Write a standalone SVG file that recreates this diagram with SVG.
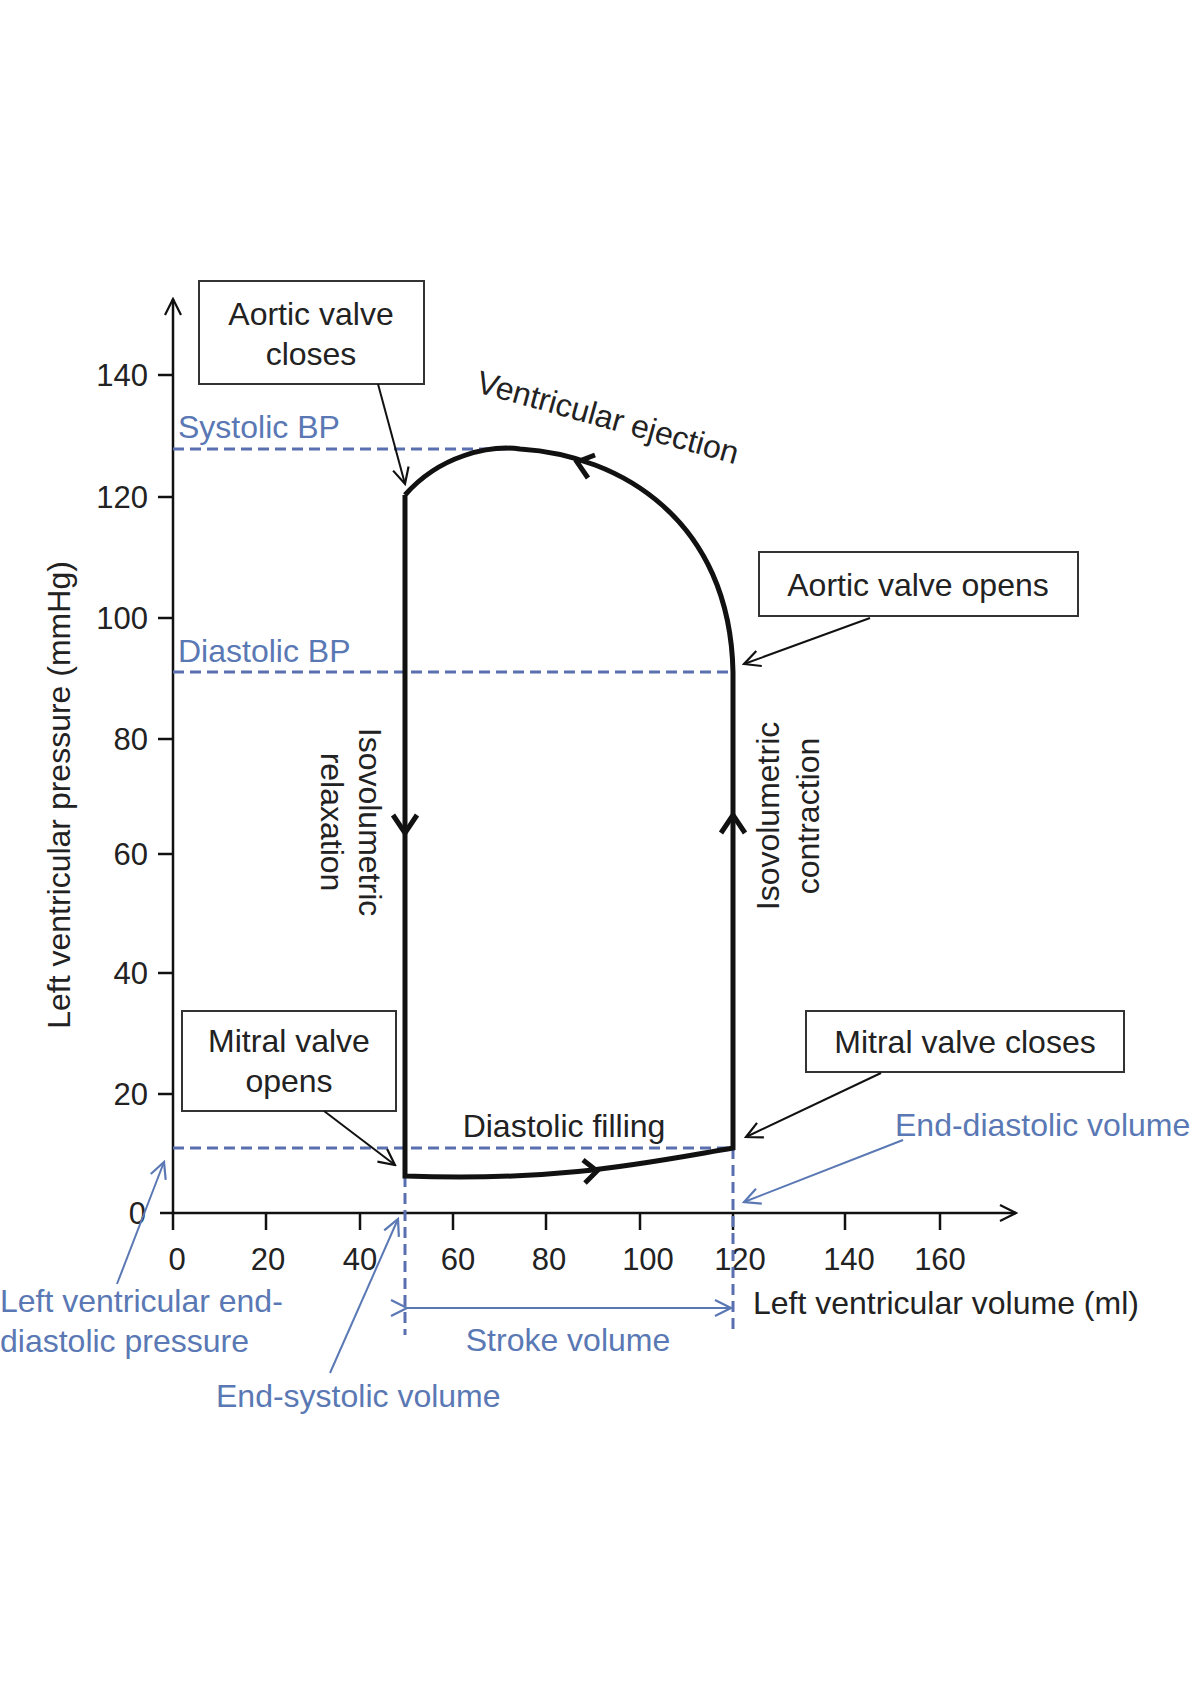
<svg xmlns="http://www.w3.org/2000/svg" width="1200" height="1698" viewBox="0 0 1200 1698">
<defs>
<marker id="ah" viewBox="0 0 20 20" refX="18" refY="10" markerWidth="20" markerHeight="20" markerUnits="userSpaceOnUse" orient="auto"><path d="M2,2 L18,10 L2,18" fill="none" stroke="#111" stroke-width="2.2"/></marker>
<marker id="ahb" viewBox="0 0 20 20" refX="18" refY="10" markerWidth="20" markerHeight="20" markerUnits="userSpaceOnUse" orient="auto"><path d="M2,2 L18,10 L2,18" fill="none" stroke="#5a78b4" stroke-width="2.2"/></marker>
<marker id="ahs" viewBox="0 0 20 20" refX="2" refY="10" markerWidth="20" markerHeight="20" markerUnits="userSpaceOnUse" orient="auto-start-reverse"><path d="M18,2 L2,10 L18,18" fill="none" stroke="#5a78b4" stroke-width="2.2"/></marker>
</defs>
<style>
text{font-family:"Liberation Sans",Arial,sans-serif;font-size:32px;fill:#222}
.t{font-size:31px}
.b{fill:#5a78b4}
.box{fill:#fff;stroke:#333;stroke-width:2}
.dash{stroke:#5a6fb0;stroke-width:3;stroke-dasharray:11 6;fill:none}
.ax{stroke:#111;stroke-width:2.5;fill:none}
.loop{stroke:#111;stroke-width:5;fill:none}
.ld{stroke:#111;stroke-width:2;fill:none}
.lb{stroke:#5a78b4;stroke-width:2;fill:none}
.c{text-anchor:middle}
.r{text-anchor:end}
</style>
<rect width="1200" height="1698" fill="#fff"/>
<g id="axes">
<line class="ax" x1="173" y1="1213" x2="173" y2="299" marker-end="url(#ah)"/>
<line class="ax" x1="160" y1="1213" x2="1016" y2="1213" marker-end="url(#ah)"/>
<g stroke="#111" stroke-width="2.5">
<line x1="158" y1="375" x2="173" y2="375"/><line x1="158" y1="497" x2="173" y2="497"/><line x1="158" y1="618" x2="173" y2="618"/><line x1="158" y1="739" x2="173" y2="739"/><line x1="158" y1="854" x2="173" y2="854"/><line x1="158" y1="973" x2="173" y2="973"/><line x1="158" y1="1094" x2="173" y2="1094"/>
<line x1="173" y1="1213" x2="173" y2="1230"/><line x1="266" y1="1213" x2="266" y2="1230"/><line x1="360" y1="1213" x2="360" y2="1230"/><line x1="453" y1="1213" x2="453" y2="1230"/><line x1="546" y1="1213" x2="546" y2="1230"/><line x1="640" y1="1213" x2="640" y2="1230"/><line x1="733" y1="1213" x2="733" y2="1230"/><line x1="845" y1="1213" x2="845" y2="1230"/><line x1="940" y1="1213" x2="940" y2="1230"/>
</g>
<text x="148" y="386" class="r t">140</text><text x="148" y="508" class="r t">120</text><text x="148" y="629" class="r t">100</text><text x="148" y="750" class="r t">80</text><text x="148" y="865" class="r t">60</text><text x="148" y="984" class="r t">40</text><text x="148" y="1105" class="r t">20</text><text x="146" y="1224" class="r t">0</text>
<text x="177" y="1270" class="c t">0</text><text x="268" y="1270" class="c t">20</text><text x="360" y="1270" class="c t">40</text><text x="458" y="1270" class="c t">60</text><text x="549" y="1270" class="c t">80</text><text x="648" y="1270" class="c t">100</text><text x="740" y="1270" class="c t">120</text><text x="849" y="1270" class="c t">140</text><text x="940" y="1270" class="c t">160</text>
<text transform="translate(70,795) rotate(-90)" class="c">Left ventricular pressure (mmHg)</text>
<text x="753" y="1314">Left ventricular volume (ml)</text>
</g>
<g id="reference-lines">
<line class="dash" x1="173" y1="449" x2="510" y2="449"/>
<line class="dash" x1="173" y1="672" x2="733" y2="672"/>
<line class="dash" x1="173" y1="1148" x2="733" y2="1148"/>
<line class="dash" x1="405" y1="1176" x2="405" y2="1335"/>
<line class="dash" x1="733" y1="1148" x2="733" y2="1335"/>
<text x="178" y="438" class="b">Systolic BP</text>
<text x="178" y="662" class="b">Diastolic BP</text>
</g>
<g id="loop">
<path class="loop" d="M405,495 C440,455 490,445 520,449 C620,455 730,520 733,672 L733,1148 C650,1162 560,1182 405,1176 L405,495"/>
<path d="M595,455 L577,462 L588,478" fill="none" stroke="#111" stroke-width="5"/>
<path d="M393,815 L405,833 L417,815" fill="none" stroke="#111" stroke-width="5"/>
<path d="M721,833 L733,815 L745,833" fill="none" stroke="#111" stroke-width="5"/>
<path d="M583,1160 L597,1171 L585,1183" fill="none" stroke="#111" stroke-width="5"/>
</g>
<g id="n-aortic-closes">
<rect class="box" x="199" y="281" width="225" height="103"/>
<text x="311" y="325" class="c">Aortic valve</text><text x="311" y="365" class="c">closes</text>
</g>
<g id="n-aortic-opens">
<rect class="box" x="759" y="552" width="319" height="64"/>
<text x="918" y="596" class="c">Aortic valve opens</text>
</g>
<g id="n-mitral-opens">
<rect class="box" x="182" y="1011" width="214" height="100"/>
<text x="289" y="1052" class="c">Mitral valve</text><text x="289" y="1092" class="c">opens</text>
</g>
<g id="n-mitral-closes">
<rect class="box" x="806" y="1011" width="318" height="61"/>
<text x="965" y="1053" class="c">Mitral valve closes</text>
</g>
<g id="labels">
<text transform="translate(605,428) rotate(15.6)" class="c">Ventricular ejection</text>
<text x="564" y="1137" class="c">Diastolic filling</text>
<text transform="translate(359,822) rotate(90)" class="c">Isovolumetric</text>
<text transform="translate(321,822) rotate(90)" class="c">relaxation</text>
<text transform="translate(779,816) rotate(-90)" class="c">Isovolumetric</text>
<text transform="translate(819,816) rotate(-90)" class="c">contraction</text>
<text x="895" y="1136" class="b">End-diastolic volume</text>
<text x="0" y="1312" class="b">Left ventricular end-</text>
<text x="0" y="1352" class="b">diastolic pressure</text>
<text x="216" y="1407" class="b">End-systolic volume</text>
<text x="568" y="1351" class="c b">Stroke volume</text>
</g>
<g id="connectors">
<line class="ld" x1="378" y1="384" x2="405" y2="484" marker-end="url(#ah)"/>
<line class="ld" x1="870" y1="618" x2="744" y2="664" marker-end="url(#ah)"/>
<line class="ld" x1="324" y1="1111" x2="395" y2="1165" marker-end="url(#ah)"/>
<line class="ld" x1="881" y1="1073" x2="746" y2="1137" marker-end="url(#ah)"/>
<line class="lb" x1="903" y1="1140" x2="744" y2="1202" marker-end="url(#ahb)"/>
<line class="lb" x1="117" y1="1284" x2="164" y2="1162" marker-end="url(#ahb)"/>
<line class="lb" x1="330" y1="1373" x2="398" y2="1219" marker-end="url(#ahb)"/>
<line class="lb" x1="407" y1="1308" x2="731" y2="1308" marker-start="url(#ahs)" marker-end="url(#ahb)"/>
</g>
</svg>
